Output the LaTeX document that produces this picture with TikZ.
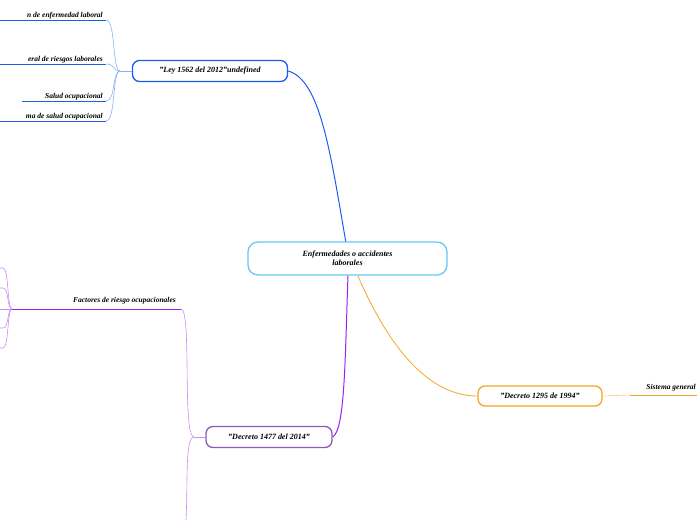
\documentclass[tikz,border=0pt]{standalone}
\usepackage{fontspec}
\setmainfont{Liberation Serif}
\begin{document}
\begin{tikzpicture}[x=1pt,y=-1pt,
  box/.style={draw,rounded corners=7pt,line width=1.3pt,fill=white,font=\bfseries\itshape\fontsize{8}{9}\selectfont,align=center,inner sep=0pt},
  leaf/.style={font=\bfseries\itshape\fontsize{7.5}{9}\selectfont,anchor=south east,inner sep=1pt},
  conn/.style={line width=0.6pt}]
\definecolor{cblue}{HTML}{1E5BF0}
\definecolor{lblue}{HTML}{8FB0F5}
\definecolor{cpurp}{HTML}{9B1FF0}
\definecolor{lpurp}{HTML}{CC8CF5}
\definecolor{corg}{HTML}{F5A623}
\definecolor{cbox}{HTML}{8A5CB8}
\useasboundingbox (0,0) rectangle (697,520);
% connectors from center
\coordinate (cb) at (346,243);
\coordinate (cp) at (348,275);
\coordinate (co) at (358,276);
\node[box,draw=cblue,minimum width=155pt,minimum height=21pt] (ley) at (210,71) {"Ley 1562 del 2012"undefined};
\node[box,draw=corg,minimum width=124pt,minimum height=20pt] (d95) at (540,396) {"Decreto 1295 de 1994"};
\node[box,draw=cbox,minimum width=126pt,minimum height=21pt] (d77) at (269,437) {"Decreto 1477 del 2014"};
\draw[cblue,line width=1pt] (cb) .. controls (330,150) and (320,80) .. (ley.east);
\draw[cpurp,line width=1pt] (cp) .. controls (345,360) and (345,430) .. (d77.east);
\draw[corg,line width=0.8pt] (co) .. controls (390,350) and (430,396) .. (d95.west);
\node[box,draw=lblue!70!cyan,line width=1.3pt,rounded corners=10pt,minimum width=199pt,minimum height=33pt] (c) at (347.5,258.5) {Enfermedades o accidentes\\laborales};
% blue leaves
\coordinate (lj) at (120,71);
\draw[lblue,conn] (ley.west) -- (lj);
\foreach \y/\t/\xs in {20/n de enfermedad laboral/0,64/eral de riesgos laborales/0,101/Salud ocupacional/22,121/ma de salud ocupacional/0}{
  \node[leaf] at (104,\y) {\t};
  \draw[cblue,line width=1pt] (\xs,\y) -- (106,\y);
  \draw[lblue,conn] (106,\y) .. controls (116,\y) and (112,71) .. (lj);
}
% orange leaf
\node[leaf] (sg) at (697,392) {Sistema general};
\draw[corg,line width=1pt] (630,395) -- (697,395);
\draw[corg!60,conn] (d95.east) -- (630,395);
% purple branches
\coordinate (pj) at (194,437);
\draw[lpurp,conn] (d77.west) -- (pj);
\node[leaf] (fr) at (177,305) {Factores de riesgo ocupacionales};
\draw[cpurp,line width=1pt] (12,309) -- (181,309);
\draw[lpurp,conn] (181,309) .. controls (192,309) and (182,437) .. (pj);
\draw[lpurp,conn] (pj) .. controls (185,437) and (188,480) .. (186,520);
\foreach \y in {268,288,328,348}{
  \draw[lpurp,conn] (0,\y) -- (3,\y) .. controls (9,\y) and (7,309) .. (12,309);
}
\draw[lpurp,conn] (0,309) -- (12,309);
\end{tikzpicture}
\end{document}
